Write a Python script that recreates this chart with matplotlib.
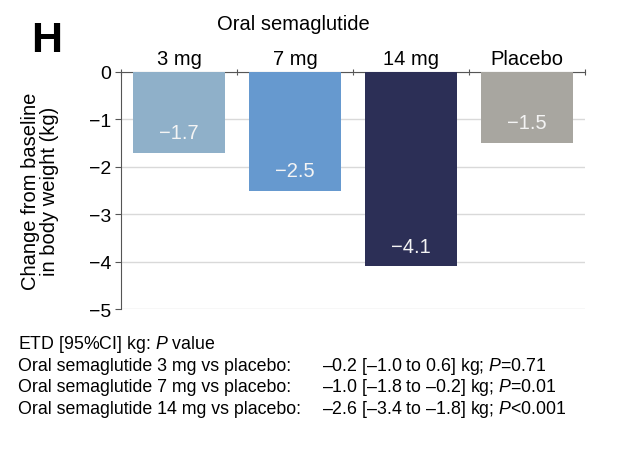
import matplotlib
matplotlib.use("Agg")
import matplotlib.pyplot as plt

plt.rcParams['font.family'] = ['Liberation Sans', 'DejaVu Sans']
plt.rcParams['mathtext.fontset'] = 'custom'
plt.rcParams['mathtext.it'] = 'Liberation Sans:italic'
plt.rcParams['mathtext.rm'] = 'Liberation Sans'

categories = ["3 mg", "7 mg", "14 mg", "Placebo"]
values = [-1.7, -2.5, -4.1, -1.5]
labels = ["\u22121.7", "\u22122.5", "\u22124.1", "\u22121.5"]
colors = ["#8fb0c9", "#6699cf", "#2c2f56", "#a8a6a0"]
yticks = [0, -1, -2, -3, -4, -5]
ytick_labels = ["0", "\u22121", "\u22122", "\u22123", "\u22124", "\u22125"]
etd_left = ["Oral semaglutide 3 mg vs placebo:",
            "Oral semaglutide 7 mg vs placebo:",
            "Oral semaglutide 14 mg vs placebo:"]
etd_right = ["\u20130.2 [\u20131.0 to 0.6] kg; $P$=0.71",
             "\u20131.0 [\u20131.8 to \u20130.2] kg; $P$=0.01",
             "\u20132.6 [\u20133.4 to \u20131.8] kg; $P$<0.001"]

fig = plt.figure(figsize=(6.22, 4.56), dpi=100)
ax = fig.add_axes([0.1945, 0.320, 0.746, 0.520])

x = list(range(len(categories)))
ax.bar(x, values, width=0.8, color=colors, zorder=3)
for xi, v, lab in zip(x, values, labels):
    ax.annotate(lab, (xi, v), xytext=(0, 14.5), textcoords='offset points',
                ha='center', va='center', color='#f4f4f4', fontsize=14.5, zorder=4)

ax.set_xlim(-0.5, 3.5)
ax.set_ylim(-5, 0)
ax.set_yticks(yticks)
ax.set_yticklabels(ytick_labels, fontsize=14)
ax.yaxis.grid(True, color='#d9d9d9', linewidth=1, zorder=0)
ax.set_axisbelow(True)

ax.xaxis.tick_top()
ax.set_xticks([-0.5, 0.5, 1.5, 2.5, 3.5])
ax.set_xticklabels([])
ax.set_xticks(x, minor=True)
ax.set_xticklabels(categories, minor=True, fontsize=14.5)
ax.tick_params(axis='x', which='minor', length=0, pad=3)
ax.tick_params(axis='x', which='major', direction='inout', length=5, color='#555555')
ax.tick_params(axis='y', direction='out', length=4, color='#555555', pad=3)

for s in ['right', 'bottom']:
    ax.spines[s].set_visible(False)
ax.spines['top'].set_color('#555555')
ax.spines['left'].set_color('#555555')

fig.text(40 / 622, 1 - 191 / 456, "Change from baseline\nin body weight (kg)", fontsize=14.5,
         rotation=90, ha='center', va='center', linespacing=1.05)

fig.text(293 / 622, 1 - 25 / 456, "Oral semaglutide", ha='center', va='center', fontsize=14.5)
fig.text(47 / 622, 1 - 41 / 456, "H", ha='center', va='center', fontsize=31, fontweight='bold')

y0 = 345
fig.text(18 / 622, 1 - y0 / 456, "ETD [95%CI] kg: $P$ value", ha='left', va='center', fontsize=12.8)
for i, (l, r) in enumerate(zip(etd_left, etd_right)):
    yy = 1 - (y0 + 21.5 * (i + 1)) / 456
    fig.text(18 / 622, yy, l, ha='left', va='center', fontsize=12.8)
    fig.text(322 / 622, yy, r, ha='left', va='center', fontsize=12.8)

fig.savefig("out.png", dpi=100)
